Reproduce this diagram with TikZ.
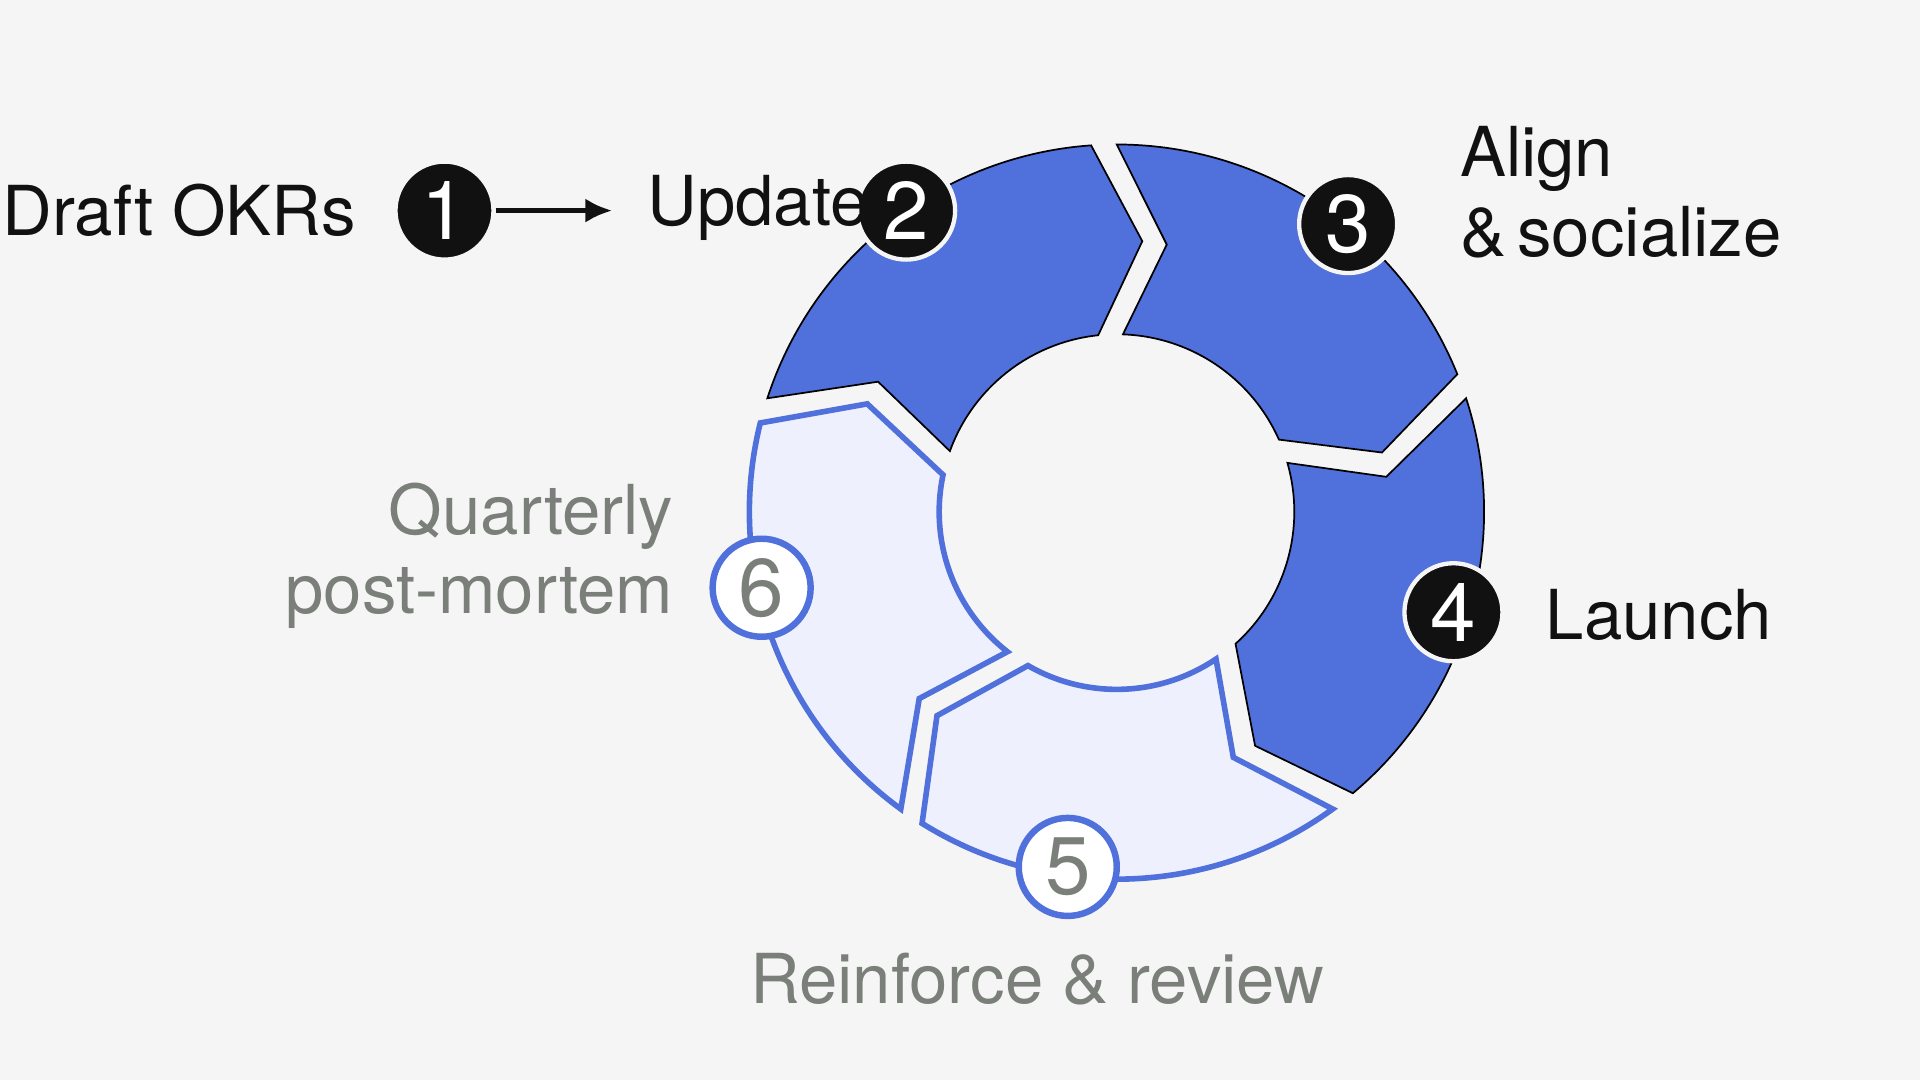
\documentclass[tikz,border=0pt]{standalone}
\usepackage{fontspec}
\setmainfont{TeX Gyre Heros}
\usetikzlibrary{arrows.meta,positioning}
\definecolor{okrblue}{HTML}{5070DB}
\definecolor{okrlight}{HTML}{EEF1FD}
\definecolor{okrgray}{HTML}{7A7F7A}
\definecolor{okrbg}{HTML}{F5F5F5}
\definecolor{okrink}{HTML}{111111}

\begin{document}
\begin{tikzpicture}[
		x=0.01cm,y=0.01cm,
		segdark/.style={fill=okrblue},
		seglight/.style={fill=okrlight,draw=okrblue,line width=1.3pt,line join=miter},
		badge/.style={circle,minimum size=0.8cm,inner sep=0pt,font=\fontsize{19}{20}\selectfont},
		bdark/.style={badge,fill=okrink,draw=okrbg,line width=1pt,text=white},
		blight/.style={badge,fill=white,draw=okrblue,line width=1.5pt,text=okrgray},
		lbl/.style={font=\fontsize{16}{18.5}\selectfont,text=okrink},
		lblg/.style={lbl,text=okrgray}]
	%% background
	\fill[okrbg] (0,0) rectangle (1568,882);
	\useasboundingbox (0,0) rectangle (1568,882);
	%% ring segments
	\begin{scope}[shift={(912,464)}]
		\foreach \A/\s in {164/segdark, 92/segdark, 20/segdark, -52/seglight, -124/seglight}
			\draw[\s] ({\A-2}:300) arc[start angle={\A-2}, end angle={\A-70}, radius=300]
				-- ({\A-82+2.6}:222) -- ({\A-72+4}:145)
				arc[start angle={\A-68}, end angle={\A-4}, radius=145]
				-- ({\A-10-2.6}:222) -- cycle;
	\end{scope}
	%% badges
	\node (one) at (363,710) [bdark] {1};
	\node (two) at (740,710) [bdark] {2};
	\node (three) at (1101,699) [bdark] {3};
	\node (four) at (1187,382) [bdark] {4};
	\node (five) at (872,174) [blight] {5};
	\node (six) at (622,402) [blight] {6};
	%% labels
	\node (draft) [lbl,left=0.18cm of one] {Draft OKRs};
	\coordinate (arrowend) at (500,710);
	\node (update) [lbl,anchor=west] at (516,712) {Update};
	\node (align) [lbl,anchor=west,align=left] at (1180,725) {Align\\\&\,socialize};
	\node (launch) [lbl,anchor=west] at (1250,380) {Launch};
	\node (reinforce) [lblg] at (847,82) {Reinforce \& review};
	\node (quarterly) [lblg,anchor=east,align=right] at (562,428) {Quarterly\\post-mortem};
	%% arrow
	\draw[-{Latex[length=0.22cm,width=0.2cm]},line width=1.2pt,okrink] (one) -- (arrowend);
\end{tikzpicture}
\end{document}
